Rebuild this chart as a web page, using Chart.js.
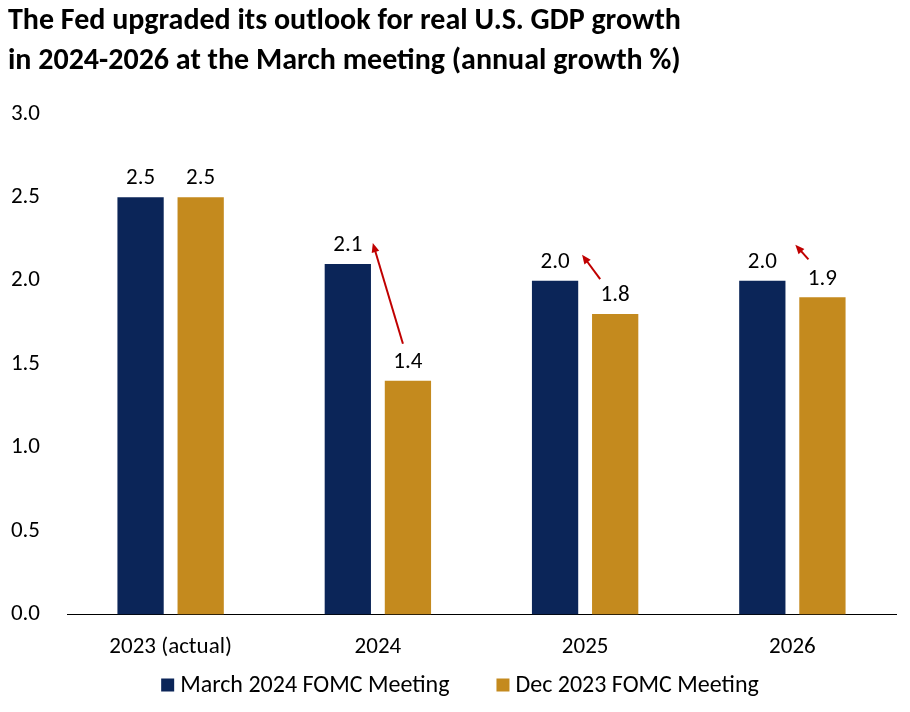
<!DOCTYPE html>
<html>
<head>
<meta charset="utf-8">
<script src="https://cdn.jsdelivr.net/npm/chart.js@4.4.1/dist/chart.umd.min.js"></script>
<style>
    html, body { margin: 0; padding: 0; background: #fff; }
    #wrap { width: 910px; height: 712px; }
</style>
</head>
<body>
<div id="wrap"><canvas id="gdpChart" width="910" height="712"></canvas></div>
<script>
var categories = ['2023 (actual)', '2024', '2025', '2026'];
var marchValues = [2.5, 2.1, 2.0, 2.0];
var decValues = [2.5, 1.4, 1.8, 1.9];
var seriesNames = ['March 2024 FOMC Meeting', 'Dec 2023 FOMC Meeting'];
var titleLines = ['The Fed upgraded its outlook for real U.S. GDP growth',
                  'in 2024-2026 at the March meeting (annual growth %)'];
// categories that get a red "revised up" arrow (Dec -> March)
var arrowCategories = [1, 2, 3];

var fontFamily = 'Carlito, Calibri, Lato, "Open Sans", sans-serif';
var navy = '#0b2558';
var gold = '#c48a1e';

// start offset from gold bar top, end offset from navy bar top (pixels)
var arrowOffsets = {
    1: { sx: -5, sy: -37, ex: 25, ey: -21 },
    2: { sx: -15, sy: -35, ex: 27, ey: -26 },
    3: { sx: -14, sy: -38, ex: 33, ey: -36 }
};

var barLabels = {
    id: 'barLabels',
    afterDatasetsDraw: function(chart) {
        var ctx = chart.ctx;
        ctx.save();
        ctx.font = '23px ' + fontFamily;
        ctx.fillStyle = '#000';
        ctx.textAlign = 'center';
        ctx.textBaseline = 'bottom';
        chart.data.datasets.forEach(function(ds, i) {
            chart.getDatasetMeta(i).data.forEach(function(bar, j) {
                ctx.fillText(ds.data[j].toFixed(1), bar.x, bar.y - 7);
            });
        });
        ctx.restore();
    }
};

var revisionArrows = {
    id: 'revisionArrows',
    afterDatasetsDraw: function(chart) {
        var ctx = chart.ctx;
        var navyBars = chart.getDatasetMeta(0).data;
        var goldBars = chart.getDatasetMeta(1).data;
        ctx.save();
        ctx.strokeStyle = '#c00000';
        ctx.fillStyle = '#c00000';
        ctx.lineWidth = 2;
        arrowCategories.forEach(function(j) {
            var o = arrowOffsets[j];
            var x1 = goldBars[j].x + o.sx, y1 = goldBars[j].y + o.sy;
            var x2 = navyBars[j].x + o.ex, y2 = navyBars[j].y + o.ey;
            var ang = Math.atan2(y2 - y1, x2 - x1);
            var head = 10;
            ctx.beginPath();
            ctx.moveTo(x1, y1);
            ctx.lineTo(x2 - Math.cos(ang) * 6, y2 - Math.sin(ang) * 6);
            ctx.stroke();
            ctx.beginPath();
            ctx.moveTo(x2, y2);
            ctx.lineTo(x2 - head * Math.cos(ang - 0.4), y2 - head * Math.sin(ang - 0.4));
            ctx.lineTo(x2 - head * Math.cos(ang + 0.4), y2 - head * Math.sin(ang + 0.4));
            ctx.closePath();
            ctx.fill();
        });
        ctx.restore();
    }
};

// legend drawn by hand: wide gap between the two entries like the original
var bottomLegend = {
    id: 'bottomLegend',
    afterDraw: function(chart) {
        var ctx = chart.ctx;
        var box = 13, textGap = 6, itemGap = 47, y = 685;
        ctx.save();
        ctx.font = '24px ' + fontFamily;
        ctx.textBaseline = 'middle';
        ctx.textAlign = 'left';
        var items = chart.data.datasets.map(function(ds) {
            return { text: ds.label, color: ds.backgroundColor, w: ctx.measureText(ds.label).width };
        });
        var total = 0;
        items.forEach(function(it, i) {
            total += box + textGap + it.w + (i > 0 ? itemGap : 0);
        });
        var x = 460 - total / 2;
        items.forEach(function(it) {
            ctx.fillStyle = it.color;
            ctx.fillRect(x, y - box / 2, box, box);
            ctx.fillStyle = '#000';
            ctx.fillText(it.text, x + box + textGap, y + 1);
            x += box + textGap + it.w + itemGap;
        });
        ctx.restore();
    }
};

var ctx = document.getElementById('gdpChart').getContext('2d');
var gdpChart = new Chart(ctx, {
    type: 'bar',
    data: {
        labels: categories,
        datasets: [{
            label: seriesNames[0],
            data: marchValues,
            backgroundColor: navy,
            categoryPercentage: 0.58,
            barPercentage: 0.77
        }, {
            label: seriesNames[1],
            data: decValues,
            backgroundColor: gold,
            categoryPercentage: 0.58,
            barPercentage: 0.77
        }]
    },
    options: {
        responsive: false,
        animation: false,
        layout: { padding: { left: 8, right: 14, top: 0, bottom: 32 } },
        plugins: {
            title: {
                display: true,
                text: titleLines,
                align: 'start',
                color: '#000',
                font: { family: fontFamily, size: 30, weight: 'bold', lineHeight: 1.33 },
                padding: { top: 2, bottom: 32 }
            },
            legend: { display: false },
            tooltip: { enabled: false }
        },
        scales: {
            x: {
                grid: { display: false, drawTicks: false },
                border: { display: true, color: '#000', width: 1 },
                ticks: { color: '#000', font: { family: fontFamily, size: 23 }, padding: 19 }
            },
            y: {
                min: 0,
                max: 3,
                grid: { display: false, drawTicks: false },
                border: { display: false },
                ticks: {
                    stepSize: 0.5,
                    color: '#000',
                    font: { family: fontFamily, size: 23 },
                    padding: 27,
                    callback: function(v) { return v.toFixed(1); }
                },
                afterFit: function(scale) { scale.width = 59; }
            }
        }
    },
    plugins: [barLabels, revisionArrows, bottomLegend]
});
</script>
</body>
</html>
